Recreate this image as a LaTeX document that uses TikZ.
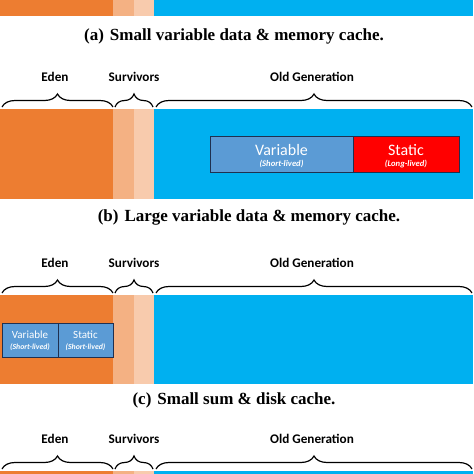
\documentclass[tikz,border=0pt]{standalone}
\usepackage{fontspec}
\setmainfont{Liberation Serif}
\newfontfamily\calib{Carlito}
\usetikzlibrary{decorations.pathreplacing}
\definecolor{edenc}{HTML}{ED7D31}
\definecolor{survA}{HTML}{F4B183}
\definecolor{survB}{HTML}{F8CBAD}
\definecolor{oldc}{HTML}{00B0F0}
\definecolor{varc}{HTML}{5B9BD5}
\definecolor{statc}{HTML}{FF0000}
\definecolor{boxline}{HTML}{1F3050}
\begin{document}
\begin{tikzpicture}[x=1pt,y=-1pt,
  captext/.style={font=\fontsize{17}{18}\selectfont\bfseries, inner sep=0pt},
  heaplabel/.style={font=\calib\fontsize{13.2}{14}\selectfont\bfseries, inner sep=0pt},
  bracestyle/.style={draw=black, line width=1.2pt, decorate, decoration={brace, amplitude=13pt}},
  membox/.style={draw=boxline, line width=0.9pt, anchor=north west, inner sep=0pt},
  bigname/.style={font=\calib\fontsize{16}{17}\selectfont, text=white, inner sep=0pt},
  bigsub/.style={font=\calib\fontsize{8.6}{9}\selectfont\bfseries\itshape, text=white, inner sep=0pt},
  smallname/.style={font=\calib\fontsize{11}{12}\selectfont, text=white, inner sep=0pt},
  smallsub/.style={font=\calib\fontsize{7.8}{8}\selectfont\bfseries\itshape, text=white, inner sep=0pt}]
\useasboundingbox (0,0) rectangle (474,474);
\fill[white] (0,0) rectangle (474,474);
% heap bars
\foreach \t/\b in {-10/16, 109/199, 295/384, 471/480}{
  \fill[edenc] (0,\t) rectangle (113,\b);
  \fill[survA] (113,\t) rectangle (134,\b);
  \fill[survB] (134,\t) rectangle (154,\b);
  \fill[oldc] (154,\t) rectangle (473,\b);
}
% braces and labels
\foreach \t/\n in {109/b, 295/c, 471/d}{
  \coordinate (eL\n) at (2,\t-2);
  \coordinate (eR\n) at (113,\t-2);
  \coordinate (sL\n) at (115,\t-2);
  \coordinate (sR\n) at (153,\t-2);
  \coordinate (oL\n) at (156,\t-2);
  \coordinate (oR\n) at (472,\t-2);
  \draw[bracestyle] (eL\n) -- (eR\n);
  \draw[bracestyle] (sL\n) -- (sR\n);
  \draw[bracestyle] (oL\n) -- (oR\n);
  \node[heaplabel] (eden\n) at (55,\t-32) {Eden};
  \node[heaplabel] (surv\n) at (134,\t-32) {Survivors};
  \node[heaplabel] (old\n) at (312,\t-32) {Old Generation};
}
% captions
\node[captext] (capa) at (234,36) {(a)\hspace{0.35em}Small variable data \& memory cache.};
\node[captext] (capb) at (249,217) {(b)\hspace{0.35em}Large variable data \& memory cache.};
\node[captext] (capc) at (234,400) {(c)\hspace{0.35em}Small sum \& disk cache.};
% panel (a) boxes
\node[membox, fill=varc, minimum width=143pt, minimum height=36pt] (varA) at (210,136) {};
\node[membox, fill=statc, minimum width=106pt, minimum height=36pt] (statA) at (353,136) {};
\node[bigname] (varAn) at (281.5,150) {Variable};
\node[bigsub] (varAs) at (281.5,164) {(Short-lived)};
\node[bigname] (statAn) at (406,150) {Static};
\node[bigsub] (statAs) at (406,164) {(Long-lived)};
% panel (b) boxes
\node[membox, fill=varc, minimum width=56pt, minimum height=34pt] (varB) at (2,323) {};
\node[membox, fill=varc, minimum width=55pt, minimum height=34pt] (statB) at (58,323) {};
\node[smallname] (varBn) at (30,335) {Variable};
\node[smallsub] (varBs) at (30,347) {(Short-lived)};
\node[smallname] (statBn) at (85.5,335) {Static};
\node[smallsub] (statBs) at (85.5,347) {(Short-lived)};
\end{tikzpicture}
\end{document}
